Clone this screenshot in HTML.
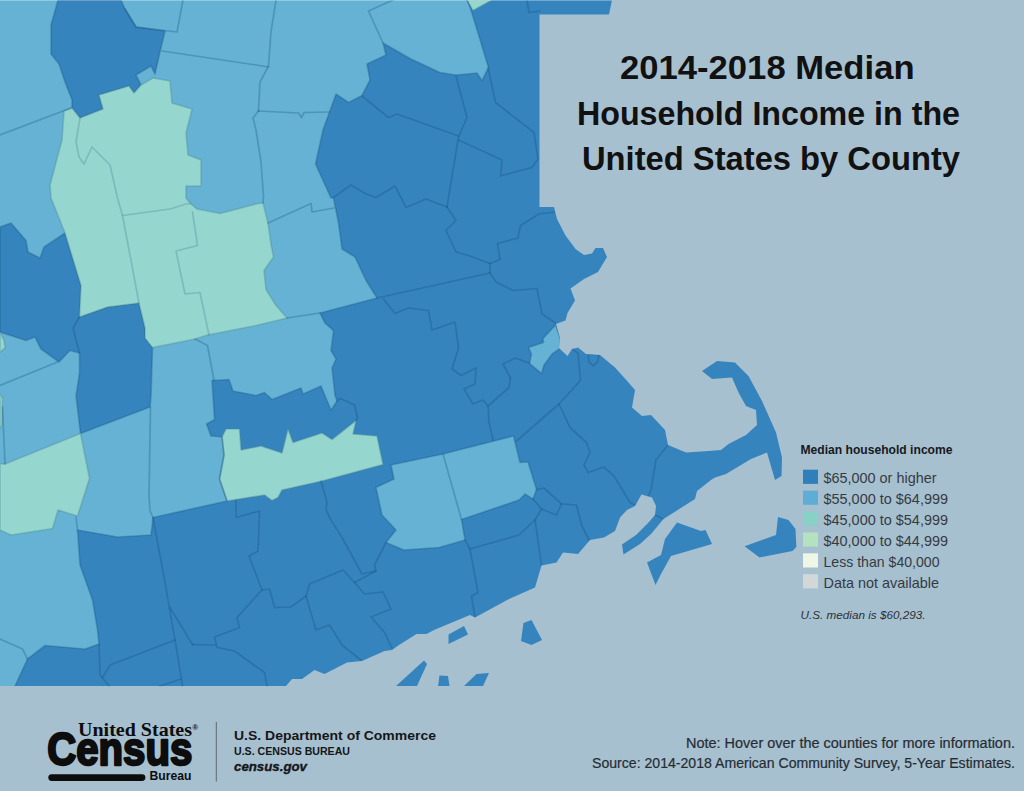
<!DOCTYPE html>
<html lang="en"><head><meta charset="utf-8"><title>2014-2018 Median Household Income in the United States by County</title>
<style>html,body{margin:0;padding:0;background:#a6c0d0;overflow:hidden}svg{display:block}text{font-family:"Liberation Sans",Arial,sans-serif}</style></head><body>
<svg width="1024" height="791" viewBox="0 0 1024 791">
<rect width="1024" height="791" fill="#a6c0d0"/>
<defs><clipPath id="mapclip"><rect x="0" y="0" width="1024" height="686.6"/></clipPath></defs>
<g clip-path="url(#mapclip)">
<rect x="0" y="0" width="1024" height="686" fill="#3684bd"/>
<polygon points="0,0 467,0 471,10 488.5,67.5 482,80.5 477,73 456,75 440,72.5 411,59 383,43 386,55 367,64 370,80 362,95.5 348.5,102.5 336,94 323,130 315.5,164 331,198 333.5,198 338.5,223 342,249 355,257 366,280.5 377,298 320,313 325,323 333.5,330.5 331,350.5 336,359 332,368 335,395.5 337,401 331,410 321,386 303,394 301,388 272,399.5 264.5,392.5 256,395.5 233,391 229,379.5 212,380.5 214.5,419.5 206.5,424 211,436 222,437 224,455 219.5,479 227,501 153,517.5 151,535 117.5,537 77.5,530 80,565 92.5,600 97.5,630 99,644 85,649 45,645.5 27.5,659 15,686 0,686" fill="#65b2d4" stroke="none" stroke-width="1.7" stroke-linejoin="round"/>
<polygon points="58,0 51,25 51,54 59,64 65,82 72,100 72,108 80,118 103,109 99,95 129,86 134,93 141,85 136,75 151,66 155,74 160,52 165,31 136,27 125,9 121,0" fill="#3684bd" stroke="rgba(10,70,120,0.27)" stroke-width="1.7" stroke-linejoin="round"/>
<polygon points="0,227 11,223 26,240.5 28,252 40,258 44,247 65,233 81,285.5 79.5,317 107.5,307 139,303 145,328 145,338 152.5,347.5 151,396 150,407 80.5,433.5 76,396 79.5,373 79.5,353 70,350.5 59,362 41,349 35,337 26,340.5 0,332" fill="#3684bd" stroke="rgba(10,70,120,0.27)" stroke-width="1.7" stroke-linejoin="round"/>
<polygon points="391,465 443,454 513.5,436 520,462.5 528,462 536.5,489.5 533,499 525,494 519,500 461.5,519.5 465,540 439,547.5 404,550 386,542.5 396,530 382,515 376,487.5 394,479" fill="#65b2d4" stroke="rgba(10,70,120,0.27)" stroke-width="1.7" stroke-linejoin="round"/>
<polygon points="555.6,325 560.3,339 559.5,349 552.5,353.4 544,365 541.6,373.5 529.5,363.5 531.5,354 528.5,347.5 543.4,342.5 543,338.5" fill="#65b2d4" stroke="rgba(10,70,120,0.27)" stroke-width="1.7" stroke-linejoin="round"/>
<polygon points="64,111 72,108 80,118 103,109 99,95 129,86 134,93 141,85 153,78 170,81 172,103 192,109 186,133 188,155 201,160 201,186 186,186 186,198 190,203 197,209 220,213.5 256,204 263,203 268,223 271,244.5 273.5,257 264,270.5 266,289.5 276,305.5 287,318 256,325.5 207.5,335 195,339 152.5,347.5 145,338 145,328 139,303 107.5,307 79.5,317 81,285.5 65,233 51,198 50,185 62,140" fill="#95d6cf" stroke="rgba(70,130,140,0.32)" stroke-width="1.7" stroke-linejoin="round"/>
<polygon points="0,464 5,464 80.5,433.5 89.5,478.5 77.5,516 58,510 52.5,528.5 11,535 0,530" fill="#95d6cf" stroke="rgba(70,130,140,0.32)" stroke-width="1.7" stroke-linejoin="round"/>
<polygon points="0,333 4,340 5,348 0,352" fill="#95d6cf" stroke="rgba(70,130,140,0.32)" stroke-width="1.7" stroke-linejoin="round"/>
<polygon points="0,394 2.5,398 2,425 0,428" fill="#95d6cf" stroke="rgba(70,130,140,0.32)" stroke-width="1.7" stroke-linejoin="round"/>
<polygon points="222,437 226,429 239.5,429 241,450 261,446 282,453 288,429 293,442.5 322,433 332,439.5 356,420.5 353,434 377,436 383,464.5 322,481 282,490 278,497.5 272,500.5 264.5,495 227,501 219.5,479 224,455" fill="#95d6cf" stroke="rgba(70,130,140,0.32)" stroke-width="1.7" stroke-linejoin="round"/>
<polygon points="467,0 492,0 473,10.5" fill="#95d6cf" stroke="rgba(70,130,140,0.32)" stroke-width="1.7" stroke-linejoin="round"/>
<polyline points="467,0 471,10 488.5,67.5 482,80.5 477,73 456,75 440,72.5 411,59 383,43 386,55 367,64 370,80 362,95.5 348.5,102.5 336,94 323,130 315.5,164 331,198 333.5,198 338.5,223 342,249 355,257 366,280.5 377,298 320,313 325,323 333.5,330.5 331,350.5 336,359 332,368 335,395.5 337,401 331,410 321,386 303,394 301,388 272,399.5 264.5,392.5 256,395.5 233,391 229,379.5 212,380.5 214.5,419.5 206.5,424 211,436 222,437 224,455 219.5,479 227,501 153,517.5 151,535 117.5,537 77.5,530 80,565 92.5,600 97.5,630 99,644 85,649 45,645.5 27.5,659 15,686" fill="none" stroke="rgba(10,70,120,0.27)" stroke-width="1.7" stroke-linejoin="round"/>
<g fill="none" stroke="rgba(10,70,120,0.27)" stroke-width="1.7" stroke-linejoin="round" stroke-linecap="round">
<polyline points="0,135 71,108"/>
<polyline points="125,9 136,27 177,32 183,0"/>
<polyline points="162,51 256,65 268.5,67"/>
<polyline points="258.5,111 253,118 256,130 261,162 263.5,197 263,203"/>
<polyline points="276,0 271,32 268.5,66 260,82 258.5,111"/>
<polyline points="258.5,111 298.5,113 301.5,117.5 304,112.5 329.5,112"/>
<polyline points="393,0 368.5,11 383,43"/>
<polyline points="362,96 388.5,117.5 397,114 458.5,136"/>
<polyline points="456,76 467,117.5 458.5,137 448.5,197.5 447,207"/>
<polyline points="458.5,140 502,160 500.5,176 532,167.5 538,159 534,132.5 495.5,102.5 488,67.5"/>
<polyline points="527,0 529,12.5 540,11"/>
<polyline points="333.5,197.5 351,185 366,194 376,197.5 395,186 401,197.5 406,207.5 426,199 447,207"/>
<polyline points="447,207 456,220.5 446,230.5 456,252 468.5,255.5 490,263.5 500,259.5 497.5,243.5 518,238 520.5,225.5 539,214 555,212"/>
<polyline points="377,298 490,273 490,263.5"/>
<polyline points="490,273 496,282 513,290.5 537,288.5 542,314 555.5,323"/>
<polyline points="383.5,299 395,313.5 408.5,308 428.5,310.5 432,330 455,322 458.5,348 452,369 461,375.5 476,368 475,384 464,389 473,404 483,400 488,406 509,387.5 510.5,378"/>
<polyline points="529,363 515.5,358 503,364 510.5,378"/>
<polyline points="488,406 489,422.5 493,440"/>
<polyline points="572,349 578,353 580.5,380.5 559,404 516.5,441"/>
<polyline points="559,404 570,427.5 586.5,442.5 590,452.5 584,465 588,472.5 604,467 614,476 630,502.5 635,505"/>
<polyline points="668,445 656,460 651,490 648.5,496"/>
<polyline points="536.5,489.5 544,488 561.5,504 556.5,515 541.5,509 533,499"/>
<polyline points="561.5,504 576.5,505 581.5,525 589,540"/>
<polyline points="541.5,509 535,520 541.5,565.5"/>
<polyline points="535,520 519,535 470,549 465,540"/>
<polyline points="470,549 478,592.5 471.5,596 475,617.5"/>
<polyline points="443,454 461.5,519.5"/>
<polyline points="236,500 236,517.5 259.5,511 258,551 249,556 262,590 269.5,589 274.5,607.5 291,607 306,596 309.5,584 343,570 354.5,582.5 376,571 374.5,565 386,542.5"/>
<polyline points="321,481 327,502.5 326,510 331,520 342,537.5 362,574 376,571"/>
<polyline points="262,590 237,617.5 239.5,627.5 214.5,637 217,647.5 234.5,651 264.5,672.5 267,686"/>
<polyline points="192.5,644.5 215,645"/>
<polyline points="306,596 316,630 329.5,625 342,645 362,661"/>
<polyline points="354.5,582.5 364.5,594 383,592 391,609 371,617 384.5,632.5 392,648"/>
<polyline points="153,517.5 165,582.5 175,640 182.5,686"/>
<polyline points="99,644 100,675 109,686"/>
<polyline points="175,640 110,665 102.5,677.5"/>
<polyline points="160,686 181,679"/>
<polyline points="170,607.5 192.5,644.5"/>
<polyline points="150.5,407 149,496 150,511 153,517.5"/>
<polyline points="195,339 207.5,345.5 214,380.5"/>
<polyline points="0,385.5 57.5,362"/>
<polyline points="0,639 22.5,649 27.5,659"/>
<polyline points="5,464 2.5,407"/>
<polyline points="268,223 311,203.5 312,212 334,208"/>
<polyline points="79.5,317 73,328 79.5,353"/>
<polyline points="76,517 77.5,530"/>
<polyline points="287,318 320,313"/>
<polyline points="655,515 663.5,519"/>
<polyline points="337,401 340.5,398.5 354.5,405 357.5,417.5 356,420.5"/>
<polyline points="588.5,354 599,355 597.5,362 593,366 588.5,361 588.5,354"/>
</g>
<g fill="none" stroke="rgba(70,130,140,0.32)" stroke-width="1.7" stroke-linejoin="round" stroke-linecap="round">
<polyline points="80,118 76,142 79,157 84,164 92,147 110,165 117.5,198 122.5,215.5 139,303"/>
<polyline points="122.5,215.5 170,209 186,204 190,203.5"/>
<polyline points="192.5,212 197.5,245.5 176,251 185,294 200,292.5 209,335"/>
</g>
<polygon points="612,0 1024,0 1024,686 286,686 292,679 302,679 314.5,670 324.5,674 347,662.5 362,661 384.5,651 392,650 399,645 416.5,634 426.5,634 434,630 470,615 475,617.5 509,599 535,587.5 541.5,565.5 556.5,562.5 563,552.5 578,554 590,540 604,537.5 615,531 620,517.5 627,510 635,506 641.5,494.5 652,497.5 656,506 655,515 648.5,522.5 636,535 622,544.5 623.5,554.5 640,544 651,534 663.5,519 695,499 697,491 711,480 715,477.5 726,474 751,459 767,452.5 775,480 781.5,476 782,457.5 776,432.5 762,401 748.5,376 735,362.5 717,361 702,371 712,379 732,377.5 738.5,392.5 746,406 756,410 757,425 746,435 728.5,444 721,450 708.5,451 686,452.5 668,445 665,430 651,415 642,416 632,407.5 635,390 628.5,382.5 615,367.5 600,355 586,354 578,347.5 572,349 567.5,356 559,348 560,338 556,324 565.5,320.5 567.5,313 575,300.5 570.5,288.5 584,279 598,272 607,257 603,248 595.5,248 592,253.5 584,255 575.5,249 565.5,235.5 557,219 554,207 539.5,207 539.5,14.5 609,14.5" fill="#a6c0d0" stroke="none" stroke-width="1.7" stroke-linejoin="round"/>
<polygon points="677,522.5 701,531 705.5,530 712,544 671,556 661,574 655.5,585 647,562.5 661,555 665,539" fill="#3684bd" stroke="none" stroke-width="1.7" stroke-linejoin="round"/>
<polygon points="778,517 788.5,520 795.5,529 796.4,547 792.5,551 759.5,557.5 744.6,546.3 776,535" fill="#3684bd" stroke="none" stroke-width="1.7" stroke-linejoin="round"/>
<polygon points="523.5,623 531.5,620 542,640 531.5,645 521,641" fill="#3684bd" stroke="none" stroke-width="1.7" stroke-linejoin="round"/>
<polygon points="448.5,634.5 464,626 468,634.5 448.5,644" fill="#3684bd" stroke="none" stroke-width="1.7" stroke-linejoin="round"/>
<polygon points="396,686 424,660.5 427,664 417,686" fill="#3684bd" stroke="none" stroke-width="1.7" stroke-linejoin="round"/>
<polygon points="438,686 439.5,675.5 448,676 449.5,686" fill="#3684bd" stroke="none" stroke-width="1.7" stroke-linejoin="round"/>
<polygon points="464,686 476.5,674 489,673 483,686" fill="#3684bd" stroke="none" stroke-width="1.7" stroke-linejoin="round"/>
<rect x="0" y="0" width="612" height="1" fill="#fff" opacity="0.3"/>
</g>
<g fill="#111" font-size="33" font-weight="bold" text-anchor="middle">
<text x="767.3" y="78.6" textLength="294.5" lengthAdjust="spacingAndGlyphs">2014-2018 Median</text>
<text x="768.5" y="124.7" textLength="383" lengthAdjust="spacingAndGlyphs">Household Income in the</text>
<text x="771" y="170.4" textLength="378" lengthAdjust="spacingAndGlyphs">United States by County</text>
</g>
<text x="800.5" y="454" font-size="12.1" font-weight="bold" fill="#16191c" textLength="152" lengthAdjust="spacingAndGlyphs">Median household income</text>
<rect x="803" y="469.7" width="15" height="14.2" fill="#2f7fbb"/>
<text x="823.5" y="483.1" font-size="14.4" fill="#353b42" textLength="113" lengthAdjust="spacingAndGlyphs">$65,000 or higher</text>
<rect x="803" y="490.6" width="15" height="14.2" fill="#5eadd4"/>
<text x="823.5" y="504.0" font-size="14.4" fill="#353b42" textLength="124.5" lengthAdjust="spacingAndGlyphs">$55,000 to $64,999</text>
<rect x="803" y="511.5" width="15" height="14.2" fill="#87d1c6"/>
<text x="823.5" y="524.9" font-size="14.4" fill="#353b42" textLength="124.5" lengthAdjust="spacingAndGlyphs">$45,000 to $54,999</text>
<rect x="803" y="532.4" width="15" height="14.2" fill="#b4e2c0"/>
<text x="823.5" y="545.8" font-size="14.4" fill="#353b42" textLength="124.5" lengthAdjust="spacingAndGlyphs">$40,000 to $44,999</text>
<rect x="803" y="553.3" width="15" height="14.2" fill="#eef6e6"/>
<text x="823.5" y="566.7" font-size="14.4" fill="#353b42" textLength="116" lengthAdjust="spacingAndGlyphs">Less than $40,000</text>
<rect x="803" y="574.2" width="15" height="14.2" fill="#d2d8da"/>
<text x="823.5" y="587.6" font-size="14.4" fill="#353b42" textLength="115.5" lengthAdjust="spacingAndGlyphs">Data not available</text>
<text x="800.5" y="619" font-size="11.7" font-style="italic" fill="#2c3136" textLength="125" lengthAdjust="spacingAndGlyphs">U.S. median is $60,293.</text>
<g fill="#0d0d0d">
<text x="78" y="736.1" font-weight="bold" font-size="19" textLength="114" lengthAdjust="spacingAndGlyphs" style="font-family:'Liberation Serif',serif">United States</text>
<text x="192.6" y="729.8" font-size="7.5" font-weight="bold">®</text>
<text x="47.2" y="764.8" font-size="45.6" font-weight="bold" stroke="#0d0d0d" stroke-width="2.4" stroke-linejoin="round" textLength="145.1" lengthAdjust="spacingAndGlyphs">Census</text>
<rect x="48.3" y="774.2" width="97.1" height="6.8" rx="3.4"/>
<text x="149.5" y="780.3" font-size="12.5" font-weight="bold" textLength="42" lengthAdjust="spacingAndGlyphs">Bureau</text>
</g>
<rect x="215.8" y="722" width="1" height="59.5" fill="#5d6870"/>
<g fill="#161616">
<text x="234" y="739.7" font-size="12.7" font-weight="bold" textLength="202" lengthAdjust="spacingAndGlyphs">U.S. Department of Commerce</text>
<text x="234" y="755.4" font-size="10.3" font-weight="bold" textLength="116" lengthAdjust="spacingAndGlyphs">U.S. CENSUS BUREAU</text>
<text x="234" y="770.6" font-size="13" font-weight="bold" font-style="italic" stroke="#161616" stroke-width="0.35" textLength="73" lengthAdjust="spacingAndGlyphs">census.gov</text>
</g>
<g fill="#262c32" stroke="#262c32" stroke-width="0.2" font-size="14.3" text-anchor="end">
<text x="1015" y="747.6" textLength="329" lengthAdjust="spacingAndGlyphs">Note: Hover over the counties for more information.</text>
<text x="1015" y="767.5" textLength="423" lengthAdjust="spacingAndGlyphs">Source: 2014-2018 American Community Survey, 5-Year Estimates.</text>
</g>
</svg></body></html>
